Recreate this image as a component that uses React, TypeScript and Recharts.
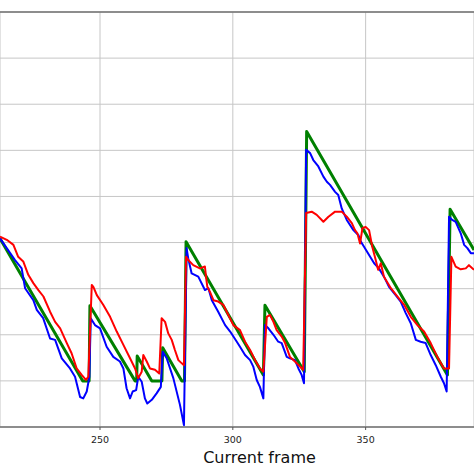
import React from 'react';
import { LineChart, Line, XAxis, YAxis, CartesianGrid, ReferenceLine, Label } from 'recharts';

// [frame, value]
const greenSeries: [number, number][] = [
  [212.35, 4.09], [243.5, 1.0], [245.9, 1.0], [246.2, 2.63], [263.2, 1.0], [263.8, 1.0],
  [264.0, 1.54], [269.5, 1.0], [273.3, 1.0], [273.6, 1.72], [280.8, 1.0], [281.8, 1.0],
  [282.4, 4.02], [311.5, 1.13], [312.1, 2.64], [326.9, 1.2], [327.8, 6.41], [380.8, 1.13],
  [381.8, 4.72], [390.8, 3.84],
];

const blueSeries: [number, number][] = [
  [212.35, 4.09], [218.0, 3.62], [220.5, 3.44], [221.8, 3.01], [224.9, 2.75], [226.2, 2.54],
  [228.6, 2.36], [231.2, 1.92], [233.1, 1.89], [235.6, 1.49], [238.7, 1.27], [240.6, 1.09],
  [242.5, 0.65], [243.7, 0.62], [245.0, 0.77], [246.0, 1.09], [246.5, 2.36], [248.1, 2.21],
  [250.0, 2.14], [252.5, 1.74], [255.0, 1.52], [257.5, 1.42], [258.8, 1.27], [260.0, 0.84],
  [261.3, 0.62], [262.3, 0.77], [263.6, 0.8], [264.4, 1.09], [265.7, 0.98], [266.9, 0.62],
  [267.8, 0.51], [269.5, 0.59], [271.3, 0.73], [272.9, 0.87], [273.6, 1.63], [275.1, 1.49],
  [277.6, 1.06], [280.1, 0.48], [281.6, 0.04], [282.6, 3.88], [283.2, 3.66], [284.5, 3.33],
  [287.0, 3.26], [289.5, 2.97], [290.8, 3.01], [292.1, 2.75], [294.5, 2.5], [297.1, 2.21],
  [299.0, 2.07], [301.5, 1.85], [302.7, 1.74], [304.6, 1.56], [306.5, 1.45], [307.7, 1.31],
  [309.0, 1.02], [310.2, 0.87], [311.5, 0.62], [312.1, 2.21], [313.4, 2.14], [315.3, 2.0],
  [317.1, 1.85], [318.4, 1.82], [320.3, 1.52], [321.5, 1.49], [323.4, 1.45], [324.7, 1.27],
  [325.9, 1.13], [326.8, 0.95], [327.6, 6.01], [329.1, 5.94], [330.3, 5.79], [332.2, 5.65],
  [334.1, 5.43], [335.4, 5.32], [336.6, 5.25], [338.5, 5.1], [339.7, 5.03], [341.0, 4.74],
  [342.9, 4.49], [345.4, 4.27], [347.3, 4.16], [348.2, 4.02], [349.4, 3.91], [351.3, 3.73],
  [353.2, 3.55], [355.0, 3.44], [356.9, 3.26], [358.8, 3.04], [361.3, 2.86], [363.2, 2.72],
  [365.1, 2.47], [367.0, 2.25], [368.9, 1.89], [370.7, 1.85], [372.6, 1.82], [374.5, 1.56],
  [376.4, 1.34], [378.3, 1.09], [379.5, 0.95], [380.5, 0.77], [381.4, 4.56], [382.6, 4.49],
  [383.9, 4.45], [385.8, 4.2], [387.1, 3.95], [388.3, 3.88], [389.6, 3.77], [390.8, 3.77],
];

const redSeries: [number, number][] = [
  [212.35, 4.13], [214.9, 4.06], [217.4, 3.95], [219.2, 3.69], [221.1, 3.59], [223.0, 3.3],
  [224.9, 3.12], [226.8, 2.97], [228.7, 2.83], [231.2, 2.5], [233.1, 2.28], [235.0, 2.14],
  [237.5, 1.82], [239.3, 1.6], [241.2, 1.27], [243.1, 1.13], [244.7, 1.02], [245.6, 1.09],
  [246.9, 3.08], [247.5, 3.04], [248.8, 2.86], [251.2, 2.65], [253.8, 2.39], [256.3, 2.07],
  [258.8, 1.78], [261.3, 1.49], [263.2, 1.27], [264.4, 1.06], [265.7, 1.2], [266.3, 1.56],
  [267.6, 1.42], [268.8, 1.27], [270.7, 1.24], [272.3, 1.16], [273.2, 2.36], [274.5, 2.28],
  [275.7, 2.03], [277.0, 1.89], [278.2, 1.67], [279.5, 1.45], [280.8, 1.38], [281.6, 1.34],
  [282.4, 3.69], [283.2, 3.62], [285.1, 3.51], [287.6, 3.44], [289.5, 3.48], [289.9, 3.26],
  [290.4, 3.04], [291.4, 2.93], [292.7, 2.75], [294.5, 2.72], [296.4, 2.65], [297.7, 2.5],
  [300.2, 2.21], [302.7, 2.1], [304.6, 1.85], [306.5, 1.67], [308.4, 1.45], [310.2, 1.27],
  [311.5, 1.2], [312.8, 2.39], [314.0, 2.43], [315.3, 2.28], [316.5, 2.1], [318.4, 1.96],
  [319.7, 1.82], [321.5, 1.52], [323.4, 1.42], [325.3, 1.31], [326.5, 1.24], [327.6, 4.64],
  [329.7, 4.67], [331.6, 4.6], [334.1, 4.45], [336.0, 4.56], [338.5, 4.67], [341.0, 4.67],
  [342.9, 4.56], [344.8, 4.42], [346.0, 4.27], [346.9, 4.2], [347.9, 3.98], [348.8, 4.31],
  [350.0, 4.34], [351.3, 4.27], [352.5, 3.91], [353.8, 3.62], [354.7, 3.41], [355.7, 3.55],
  [356.9, 3.26], [359.5, 3.01], [362.0, 2.83], [364.5, 2.65], [367.0, 2.39], [369.5, 2.21],
  [372.0, 2.07], [374.5, 1.82], [377.0, 1.52], [379.5, 1.27], [381.4, 1.27], [382.3, 3.69],
  [383.9, 3.48], [385.8, 3.42], [387.7, 3.44], [388.9, 3.51], [390.8, 3.41],
];

const xDomain: [number, number] = [212.35, 390.8];
const xTicks = [250, 300, 350];
const yDomain: [number, number] = [0, 9];
const yTicks = [0, 1, 2, 3, 4, 5, 6, 7, 8, 9];
const xLabel = 'Current frame';

const toRows = (s: [number, number][]) => s.map(([frame, value]) => ({ frame, value }));

export default function App() {
  const font = 'DejaVu Sans, sans-serif';
  return (
    <div style={{ position: 'absolute', left: 0, top: 0, width: 474, height: 474, overflow: 'hidden', background: '#fff' }}>
      <LineChart width={474} height={474} margin={{ top: 12, right: 0, bottom: 0, left: 0 }}>
        <CartesianGrid stroke="#c6c6c6" strokeWidth={1} />
        <XAxis
          type="number"
          dataKey="frame"
          domain={xDomain}
          allowDataOverflow
          ticks={xTicks}
          height={47}
          tickSize={3}
          tickMargin={6}
          axisLine={{ stroke: '#707070', strokeWidth: 1.5 }}
          tickLine={{ stroke: '#555' }}
          tick={{ fontSize: 9.5, fontFamily: font, fill: '#222' }}
        >
          <Label
            content={(props: any) => {
              const vb = props.viewBox || {};
              return (
                <text
                  x={(vb.x ?? 0) + (vb.width ?? 474) / 2 + 22.5}
                  y={463}
                  textAnchor="middle"
                  fontSize={16}
                  fontFamily={font}
                  fill="#111"
                >
                  {xLabel}
                </text>
              );
            }}
          />
        </XAxis>
        <YAxis hide type="number" domain={yDomain} ticks={yTicks} allowDataOverflow />
        <ReferenceLine y={9} stroke="#707070" strokeWidth={1.5} />
        <Line data={toRows(greenSeries)} dataKey="value" type="linear" stroke="#008000" strokeWidth={3} dot={false} isAnimationActive={false} strokeLinejoin="round" />
        <Line data={toRows(blueSeries)} dataKey="value" type="linear" stroke="#0000ff" strokeWidth={2} dot={false} isAnimationActive={false} strokeLinejoin="round" />
        <Line data={toRows(redSeries)} dataKey="value" type="linear" stroke="#ff0000" strokeWidth={2} dot={false} isAnimationActive={false} strokeLinejoin="round" />
      </LineChart>
    </div>
  );
}
